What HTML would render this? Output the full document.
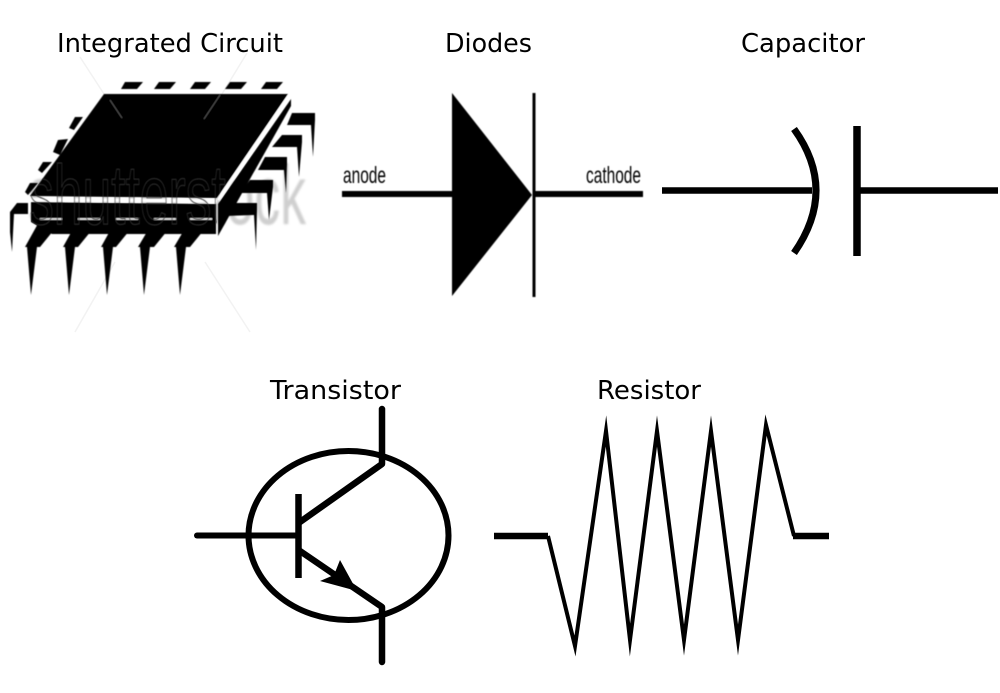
<!DOCTYPE html>
<html><head><meta charset="utf-8"><style>
html,body{margin:0;padding:0;background:#fff;width:1000px;height:693px;overflow:hidden}
svg{display:block}
.l{font-family:"DejaVu Sans","Liberation Sans",sans-serif;font-size:26px;fill:#000}
.s{font-family:"Liberation Sans",sans-serif;font-size:23px;fill:#000}
</style></head><body>
<svg width="1000" height="693" viewBox="0 0 1000 693" xmlns="http://www.w3.org/2000/svg">
<defs>
<filter id="b" x="-5%" y="-5%" width="110%" height="110%"><feGaussianBlur stdDeviation="0.6"/></filter>
<filter id="b2" x="-5%" y="-5%" width="110%" height="110%"><feGaussianBlur stdDeviation="1"/></filter>
<clipPath id="c"><path d="M104 94L288 94L217 198L217 234L52 234L31 222L30 196Z"/></clipPath>
</defs>
<rect width="1000" height="693" fill="#fff"/>
<text class="l" x="57" y="52" textLength="226" lengthAdjust="spacingAndGlyphs">Integrated Circuit</text>
<text class="l" x="445" y="52" textLength="87" lengthAdjust="spacingAndGlyphs">Diodes</text>
<text class="l" x="741" y="52" textLength="124" lengthAdjust="spacingAndGlyphs">Capacitor</text>
<text class="l" x="270" y="399" textLength="131" lengthAdjust="spacingAndGlyphs">Transistor</text>
<text class="l" x="597" y="399" textLength="104" lengthAdjust="spacingAndGlyphs">Resistor</text>

<!-- watermark -->
<g stroke="#f2f2f2" stroke-width="1.500" fill="none">
<path d="M80 57L104 94M247 53L222 94M205 262L250 332M115 262L75 332"/>
</g>
<text x="28" y="224" font-family="Liberation Sans,sans-serif" font-size="84" fill="#cfcfcf" textLength="278" lengthAdjust="spacingAndGlyphs" filter="url(#b2)">shutterstock</text>

<!-- chip -->
<g filter="url(#b)">
<g fill="#000">
<path d="M104 94L288 94L217 198L30 196Z"/>
<path d="M291 99L291 106L218 236L218 204Z"/>
<path d="M31 202L216 204L216 234L52 234L31 222Z"/>
<!-- back legs -->
<path d="M125 82L143 82L137 89L121 89Z"/>
<path d="M159 82L176 82L170 89L154 89Z"/>
<path d="M195 82L211 82L205 89L190 89Z"/>
<path d="M230 82L247 82L241 89L225 89Z"/>
<path d="M266 82L283 82L277 89L261 89Z"/>
<!-- left legs -->
<path d="M75 117L83 117L74 130L69 128Z"/>
<path d="M58 140L68 139L60 155L53 152Z"/>
<path d="M43 162L52 162L42 173L38 170Z"/>
<path d="M30 183L38 183L28 195L25 192Z"/>
<path d="M10 212L17 203L28 203L28 214L14 214L12 252L10 232Z"/>
<!-- right legs -->
<path d="M292 113L315 113L315 120L313 157L311 125L287 125Z"/>
<path d="M282 135L302 135L302 142L299 177L297 147L272 147Z"/>
<path d="M265 157L287 157L287 164L286 193L284 170L258 170Z"/>
<path d="M250 180L273 180L273 187L269 220L267 193L240 193Z"/>
<path d="M234 203L257 203L257 210L256 250L254 215L225 216Z"/>
<!-- front legs -->
<path d="M40 220L62 220L40 247L37 247L31 295L27 247L25 247Z"/>
<path d="M78 220L100 220L78 247L75 247L69 295L65 247L63 247Z"/>
<path d="M116 220L138 220L116 247L113 247L107 295L103 247L101 247Z"/>
<path d="M154 220L176 220L154 247L150 247L144 295L140 247L138 247Z"/>
<path d="M190 220L212 220L190 247L186 247L180 295L176 247L174 247Z"/>
</g>
<g stroke="#fff" fill="none">
<path d="M30 199.500L217 201" stroke-width="3.500"/>
<path d="M289 96L218 200" stroke-width="2.500"/>
<path d="M40 219L62 219M78 219L100 219M116 219L138 219M154 219L176 219M190 219L212 219" stroke-width="1.500"/>
</g>
<path d="M110 100L122 118M220 95L204 119" stroke="#555" stroke-width="1" fill="none"/>
</g>
<g clip-path="url(#c)">
<text x="28" y="224" font-family="Liberation Sans,sans-serif" font-size="84" fill="none" stroke="#333" stroke-width="1" textLength="278" lengthAdjust="spacingAndGlyphs" filter="url(#b)">shutterstock</text>
</g>

<!-- diode -->
<g filter="url(#b)">
<path d="M452 93L452 296L532 195Z" fill="#000"/>
<path d="M534 93V297" stroke="#000" stroke-width="3" fill="none"/>
<path d="M342 194H452M534 194H643" stroke="#000" stroke-width="6" fill="none"/>
<text class="s" x="343" y="183" textLength="43" lengthAdjust="spacingAndGlyphs">anode</text>
<text class="s" x="586" y="183" textLength="55" lengthAdjust="spacingAndGlyphs">cathode</text>
</g>

<!-- capacitor -->
<path d="M662 190.500H812M857 190.500H998" stroke="#000" stroke-width="6.500" fill="none"/>
<path d="M794 129Q838 190 794 253" stroke="#000" stroke-width="7" fill="none"/>
<path d="M857 126V256" stroke="#000" stroke-width="7.500" fill="none"/>

<!-- transistor -->
<g stroke="#000" fill="none">
<ellipse cx="348.500" cy="535.500" rx="100" ry="84.500" stroke-width="6"/>
<path d="M382 409V462L382 464L300 522" stroke-width="6.500" stroke-linecap="round" stroke-linejoin="round"/>
<path d="M300 551L382 607V662" stroke-width="6.500" stroke-linecap="round" stroke-linejoin="round"/>
<path d="M197 535.500H298" stroke-width="6" stroke-linecap="round"/>
<path d="M298.500 494V578" stroke-width="6.500"/>
</g>
<path d="M340 560L357 591L320 581L334 575Z" fill="#000"/>

<!-- resistor -->
<path d="M548 536L575 646L606 431L630 640L657 431L684 640L711 431L738 640L766 425L794 536" stroke="#000" stroke-width="4" fill="none" stroke-linejoin="miter" stroke-miterlimit="12"/>
<path d="M494 536H548M793 536H829" stroke="#000" stroke-width="6.500" fill="none"/>
</svg>
</body></html>
